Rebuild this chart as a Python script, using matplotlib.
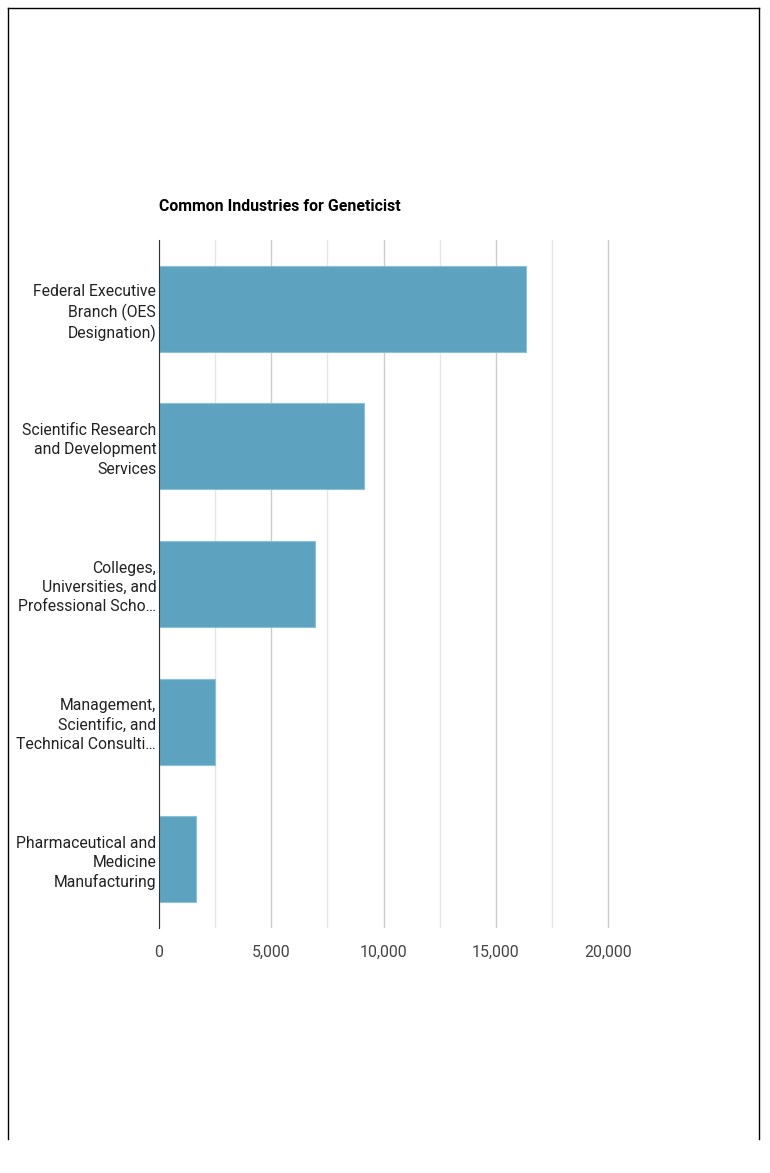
import matplotlib.pyplot as plt
from matplotlib.lines import Line2D
from matplotlib.ticker import MultipleLocator, FuncFormatter

plt.rcParams['font.family'] = ['Roboto', 'DejaVu Sans']

industries = ['Federal Executive\nBranch (OES\nDesignation)',
              'Scientific Research\nand Development\nServices',
              'Colleges,\nUniversities, and\nProfessional Scho\u2026',
              'Management,\nScientific, and\nTechnical Consulti\u2026',
              'Pharmaceutical and\nMedicine\nManufacturing']
employment = [16350, 9130, 6950, 2490, 1650]
x_ticks = [0, 5000, 10000, 15000, 20000]

W, H = 770, 1173
fig = plt.figure(figsize=(W / 100, H / 100), dpi=100)

# frame round the chart (no bottom line)
fig.add_artist(Line2D([8 / W, 8 / W], [1 - 1139 / H, 1 - 8 / H], color='black', lw=1))
fig.add_artist(Line2D([759 / W, 759 / W], [1 - 1139 / H, 1 - 8 / H], color='black', lw=1))
fig.add_artist(Line2D([8 / W, 759 / W], [1 - 8 / H, 1 - 8 / H], color='black', lw=1))

left, right, top, bottom = 159, 610, 240, 928
ax = fig.add_axes([left / W, 1 - bottom / H, (right - left) / W, (bottom - top) / H])

pos = list(range(len(industries)))
ax.barh(pos, employment, height=0.625, color='#5da3c0', edgecolor='#8cc0d6', linewidth=0.8, zorder=3)
ax.set_ylim(len(industries) - 0.5, -0.5)
ax.set_xlim(0, 20000 * (right - left) / (608 - left))

ax.set_yticks(pos)
ax.set_yticklabels(industries, fontsize=11.3, color='#222222', ha='right', linespacing=1.34)
ax.set_xticks(x_ticks)
ax.xaxis.set_minor_locator(MultipleLocator(2500))
ax.xaxis.set_major_formatter(FuncFormatter(lambda v, p: f'{int(v):,}'))
ax.tick_params(axis='x', labelsize=11.4, labelcolor='#444444', length=0, pad=12)
ax.tick_params(axis='x', which='minor', length=0)
ax.tick_params(axis='y', length=0, pad=2)

ax.grid(axis='x', which='major', color='#cccccc', lw=1, zorder=0)
ax.grid(axis='x', which='minor', color='#e6e6e6', lw=1, zorder=0)
for s in ['top', 'right', 'bottom']:
    ax.spines[s].set_visible(False)
ax.spines['left'].set_color('#333333')
ax.spines['left'].set_zorder(4)

fig.text(left / W, 1 - 206 / H, 'Common Industries for Geneticist', fontsize=11.4,
         fontweight='bold', color='black', ha='left', va='center')

fig.savefig('out.png', dpi=100)
